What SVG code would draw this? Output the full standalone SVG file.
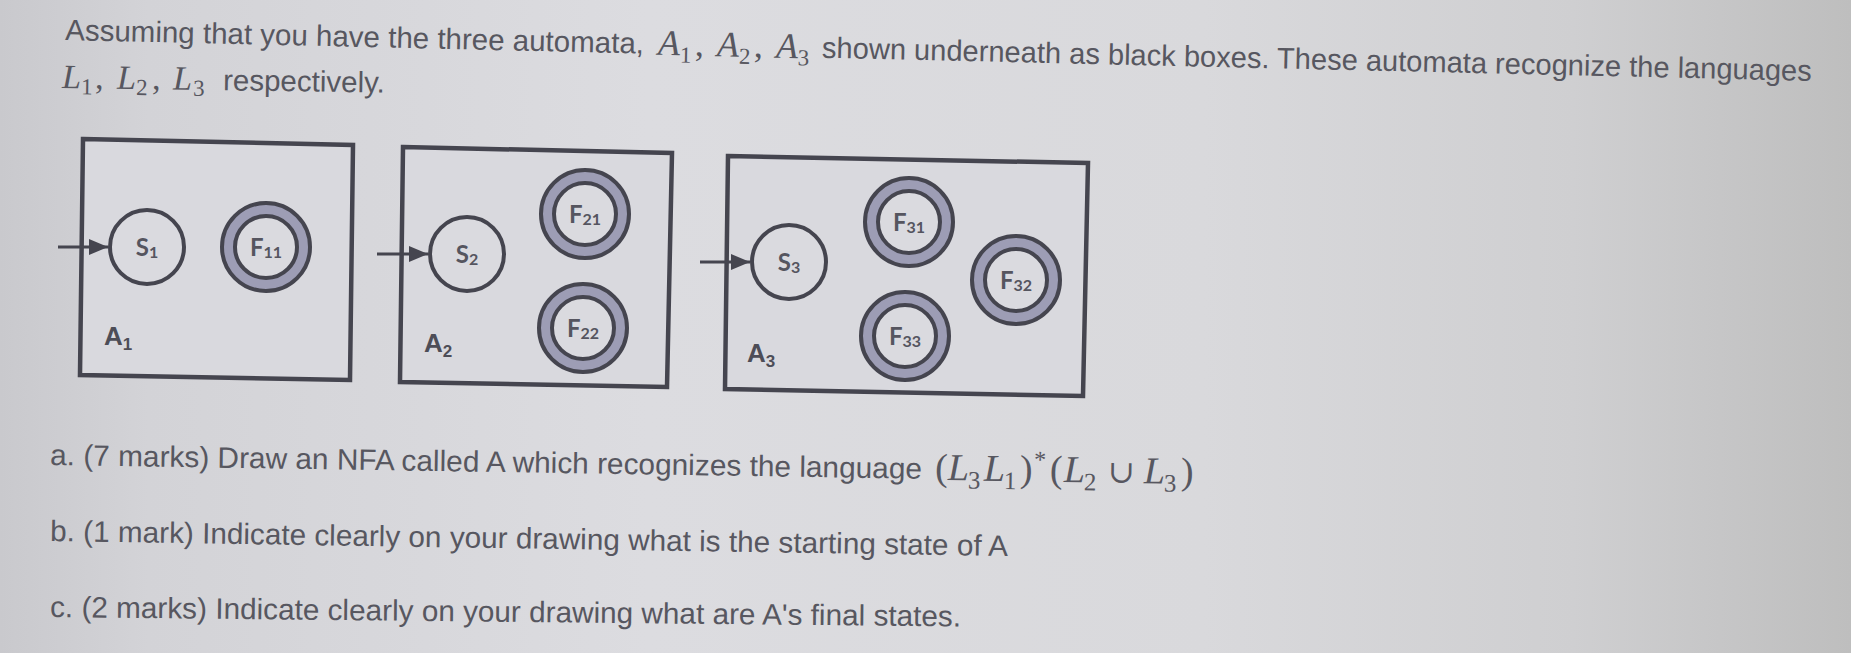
<svg xmlns="http://www.w3.org/2000/svg" width="1851" height="653" viewBox="0 0 1851 653">
<defs>
<linearGradient id="bg" x1="0" y1="0" x2="1" y2="0">
<stop offset="0" stop-color="#c9c9cd"/>
<stop offset="0.08" stop-color="#d3d3d7"/>
<stop offset="0.35" stop-color="#dcdce0"/>
<stop offset="0.65" stop-color="#d9d9dc"/>
<stop offset="0.85" stop-color="#cfcfd1"/>
<stop offset="1" stop-color="#bebebe"/>
</linearGradient>
<marker id="ah" markerWidth="20" markerHeight="18" refX="19" refY="8" orient="auto" markerUnits="userSpaceOnUse">
<path d="M0,0 L19,8 L0,16 Z" fill="#45454f"/>
</marker>
<style>
.t{font-family:"Liberation Sans",Arial,sans-serif;font-size:29.5px;fill:#575760}
.m{font-family:"Liberation Serif","DejaVu Serif",serif;font-style:italic;font-size:36px;fill:#575760}
.m1{font-family:"Liberation Serif","DejaVu Serif",serif;font-style:italic;font-size:34px;fill:#575760}
.m2{font-family:"Liberation Serif","DejaVu Serif",serif;font-style:italic;font-size:38px;fill:#575760}
.up{font-style:normal}
.sub{font-style:normal;font-size:23px}
.sub2{font-style:normal;font-size:25px}
.sup{font-style:normal;font-size:24px}
.cup{font-style:normal;font-size:32px;font-family:"DejaVu Serif",serif}
.box{fill:#d9d9de;stroke:#45454f;stroke-width:4.5;stroke-linejoin:miter}
.st{fill:#dadadf;stroke:#45454f;stroke-width:4}
.ring{fill:#9d9db5;stroke:#45454f;stroke-width:4}
.lbl{font-family:Lato,"Open Sans",sans-serif;font-weight:700;font-size:24px;fill:#55555f;text-anchor:middle}
.ls{font-size:16px}
.bl{font-family:"Liberation Sans",Arial,sans-serif;font-weight:700;font-size:26px;fill:#4d4d57}
.bls{font-size:17px}
.arr{stroke:#45454f;stroke-width:3;fill:none}
</style>
</defs>
<rect x="0" y="0" width="1851" height="653" fill="url(#bg)"/>

<g id="question-text">
<text class="t" x="65" y="40" transform="rotate(1.34 65 40)">Assuming that you have the three automata,</text>
<text class="m" transform="rotate(1.34 65 40)"><tspan x="658" y="41">A</tspan><tspan class="sub" x="680" y="48">1</tspan><tspan class="up" x="695" y="41">,</tspan><tspan x="717" y="41">A</tspan><tspan class="sub" x="739" y="48">2</tspan><tspan class="up" x="754" y="41">,</tspan><tspan x="776" y="41">A</tspan><tspan class="sub" x="798" y="48">3</tspan></text>
<text class="t" x="822" y="40" transform="rotate(1.34 65 40)" textLength="990" lengthAdjust="spacingAndGlyphs">shown underneath as black boxes. These automata recognize the languages</text>
<text class="m1" transform="rotate(0.8 62 88)"><tspan x="62" y="88">L</tspan><tspan class="sub" x="81" y="94">1</tspan><tspan class="up" x="95" y="88">,</tspan><tspan x="117" y="88">L</tspan><tspan class="sub" x="136" y="94">2</tspan><tspan class="up" x="152" y="88">,</tspan><tspan x="173" y="88">L</tspan><tspan class="sub" x="193" y="94">3</tspan></text>
<text class="t" x="223" y="88" transform="rotate(0.8 62 88)">respectively.</text>
</g>

<g id="A1">
<polygon class="box" points="83,139 353,145 350,380 80,375"/>
<text class="bl" x="104" y="345">A<tspan class="bls" dy="5">1</tspan></text>
</g>
<g id="S1"><circle class="st" cx="147" cy="247" r="37"/><text class="lbl" x="147" y="256">S<tspan class="ls" dy="2">1</tspan></text></g>
<g id="F11"><circle class="ring" cx="266" cy="247" r="44"/><circle class="st" cx="266" cy="247" r="31"/><text class="lbl" x="266" y="256">F<tspan class="ls" dy="2">11</tspan></text></g>

<g id="A2">
<polygon class="box" points="403,147 672,153 667,387 400,382"/>
<text class="bl" x="424" y="352">A<tspan class="bls" dy="5">2</tspan></text>
</g>
<g id="S2"><circle class="st" cx="467" cy="254" r="37"/><text class="lbl" x="467" y="263">S<tspan class="ls" dy="2">2</tspan></text></g>
<g id="F21"><circle class="ring" cx="585" cy="214" r="44"/><circle class="st" cx="585" cy="214" r="31"/><text class="lbl" x="585" y="223">F<tspan class="ls" dy="2">21</tspan></text></g>
<g id="F22"><circle class="ring" cx="583" cy="328" r="44"/><circle class="st" cx="583" cy="328" r="31"/><text class="lbl" x="583" y="337">F<tspan class="ls" dy="2">22</tspan></text></g>

<g id="A3">
<polygon class="box" points="728,156 1088,163 1083,396 725,389"/>
<text class="bl" x="747" y="362">A<tspan class="bls" dy="5">3</tspan></text>
</g>
<g id="S3"><circle class="st" cx="789" cy="262" r="37"/><text class="lbl" x="789" y="271">S<tspan class="ls" dy="2">3</tspan></text></g>
<g id="F31"><circle class="ring" cx="909" cy="222" r="44"/><circle class="st" cx="909" cy="222" r="31"/><text class="lbl" x="909" y="231">F<tspan class="ls" dy="2">31</tspan></text></g>
<g id="F32"><circle class="ring" cx="1016" cy="280" r="44"/><circle class="st" cx="1016" cy="280" r="31"/><text class="lbl" x="1016" y="289">F<tspan class="ls" dy="2">32</tspan></text></g>
<g id="F33"><circle class="ring" cx="905" cy="336" r="44"/><circle class="st" cx="905" cy="336" r="31"/><text class="lbl" x="905" y="345">F<tspan class="ls" dy="2">33</tspan></text></g>

<g id="connectors">
<line class="arr" x1="58" y1="247" x2="108" y2="247" marker-end="url(#ah)"/>
<line class="arr" x1="377" y1="254" x2="428" y2="254" marker-end="url(#ah)"/>
<line class="arr" x1="700" y1="262" x2="750" y2="262" marker-end="url(#ah)"/>
</g>

<g id="parts-text">
<text class="t" x="50" y="465" transform="rotate(0.9 50 465)" textLength="872" lengthAdjust="spacingAndGlyphs">a. (7 marks) Draw an NFA called A which recognizes the language</text>
<text class="m2" transform="rotate(0.9 50 465)"><tspan class="up" x="935" y="466">(</tspan><tspan x="948" y="466">L</tspan><tspan class="sub2" x="968" y="474">3</tspan><tspan x="984" y="466">L</tspan><tspan class="sub2" x="1004" y="474">1</tspan><tspan class="up" x="1020" y="466">)</tspan><tspan class="sup" x="1034" y="452">*</tspan><tspan class="up" x="1050" y="466">(</tspan><tspan x="1064" y="466">L</tspan><tspan class="sub2" x="1084" y="474">2</tspan><tspan class="cup" x="1108" y="466">∪</tspan><tspan x="1144" y="466">L</tspan><tspan class="sub2" x="1164" y="474">3</tspan><tspan class="up" x="1181" y="466">)</tspan></text>
<text class="t" x="50" y="541" transform="rotate(0.9 50 541)" textLength="958" lengthAdjust="spacingAndGlyphs">b. (1 mark) Indicate clearly on your drawing what is the starting state of A</text>
<text class="t" x="50" y="617" transform="rotate(0.6 50 617)" textLength="911" lengthAdjust="spacingAndGlyphs">c. (2 marks) Indicate clearly on your drawing what are A's final states.</text>
</g>
</svg>
